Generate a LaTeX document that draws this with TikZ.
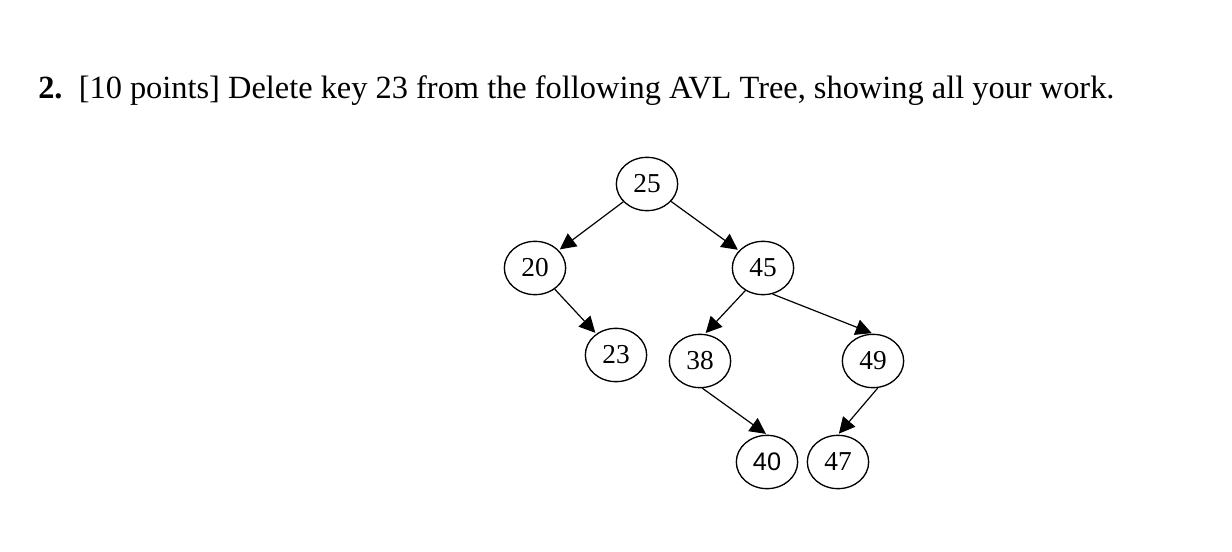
\documentclass[tikz,border=0pt]{standalone}
\usepackage{fontspec}
\setmainfont{Liberation Serif}
\newfontfamily\sansf{Liberation Sans}
\usetikzlibrary{shapes.geometric,arrows.meta}
\begin{document}
\begin{tikzpicture}[x=0.75pt,y=-0.75pt,
  key/.style={draw,ellipse,line width=1pt,minimum width=46pt,minimum height=40pt,inner sep=0pt,font=\fontsize{20.5}{22}\selectfont},
  skey/.style={key,font=\sansf\fontsize{19}{22}\selectfont},
  arr/.style={line width=0.9pt,-{Triangle[length=12pt,width=12pt]},shorten >=1pt}]
\useasboundingbox (0,0) rectangle (1232,552);
\node[anchor=base west,inner sep=0pt,font=\fontsize{24.3}{27}\selectfont] (title) at (38,99) {\textbf{2.}\ \ [10 points] Delete key 23 from the following AVL Tree, showing all your work.};
\node[key] (n25) at (647,184) {25};
\node[key] (n20) at (535,268) {20};
\node[key] (n45) at (763,268) {45};
\node[key] (n23) at (616,355) {23};
\node[key] (n38) at (700,361) {38};
\node[key] (n49) at (873,361) {49};
\node[skey] (n40) at (767,462) {40};
\node[key] (n47) at (838,462) {47};
\draw[arr] (n25) -- (n20);
\draw[arr] (n25) -- (n45);
\draw[arr] (n20) -- (n23);
\draw[arr] (n45.-128) -- (n38.80);
\draw[arr] (n45.-70) -- (n49.north);
\draw[arr] (n38.-85) -- (n40.north);
\draw[arr] (n49.-80) -- (n47.north);
\end{tikzpicture}
\end{document}
